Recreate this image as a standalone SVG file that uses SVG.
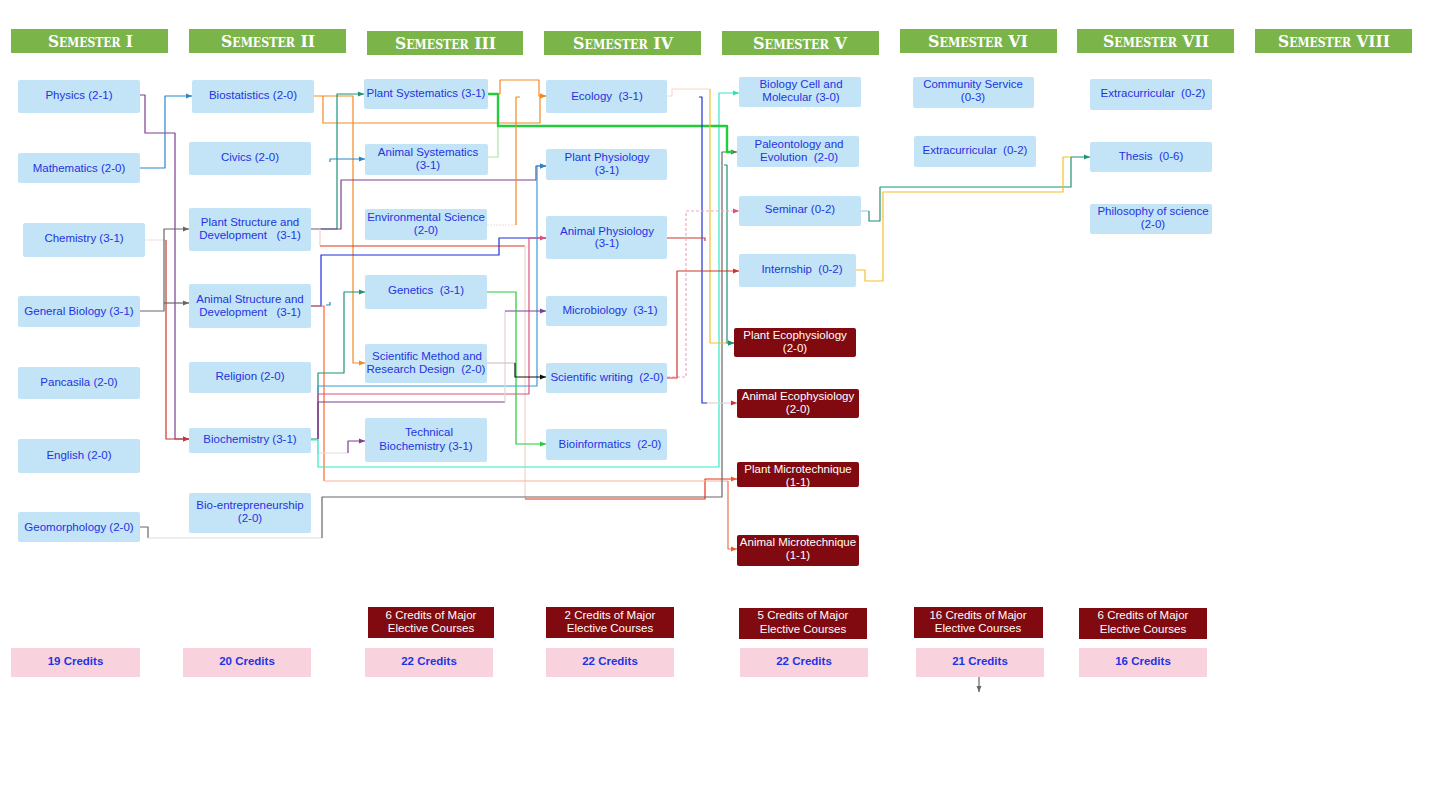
<svg xmlns="http://www.w3.org/2000/svg" width="1430" height="803" viewBox="0 0 1430 803">
<style>
.h rect{fill:#7bb54a}
.h text{font-family:"DejaVu Serif","Liberation Serif",serif;font-weight:bold;font-variant:small-caps;font-size:17px;fill:#fff;text-anchor:middle}
.n rect{fill:#c3e4f6}
.n text{font-family:"Liberation Sans",Arial,sans-serif;font-size:11.5px;fill:#1f33e2;text-anchor:middle;white-space:pre}
.e rect{fill:#800a10}
.e text{font-family:"Liberation Sans",Arial,sans-serif;font-size:11.5px;fill:#fff;text-anchor:middle;white-space:pre}
.c rect{fill:#f8d3de}
.c text{font-family:"Liberation Sans",Arial,sans-serif;font-size:11.5px;font-weight:bold;fill:#1f33e2;text-anchor:middle}
#connectors path{fill:none;stroke-width:1.2;stroke-linejoin:round}
#connectors path.thick{stroke-width:2.4}
</style>
<defs>
<marker id="a-purple" markerWidth="6" markerHeight="6" refX="6" refY="3" orient="auto" markerUnits="userSpaceOnUse"><path d="M0,0.5L6,3L0,5.5z" fill="#7b3f91"/></marker>
<marker id="a-red" markerWidth="6" markerHeight="6" refX="6" refY="3" orient="auto" markerUnits="userSpaceOnUse"><path d="M0,0.5L6,3L0,5.5z" fill="#d0342c"/></marker>
<marker id="a-blue" markerWidth="6" markerHeight="6" refX="6" refY="3" orient="auto" markerUnits="userSpaceOnUse"><path d="M0,0.5L6,3L0,5.5z" fill="#2a86c8"/></marker>
<marker id="a-gray" markerWidth="6" markerHeight="6" refX="6" refY="3" orient="auto" markerUnits="userSpaceOnUse"><path d="M0,0.5L6,3L0,5.5z" fill="#666"/></marker>
<marker id="a-orange" markerWidth="6" markerHeight="6" refX="6" refY="3" orient="auto" markerUnits="userSpaceOnUse"><path d="M0,0.5L6,3L0,5.5z" fill="#f28a24"/></marker>
<marker id="a-teal" markerWidth="6" markerHeight="6" refX="6" refY="3" orient="auto" markerUnits="userSpaceOnUse"><path d="M0,0.5L6,3L0,5.5z" fill="#1f9277"/></marker>
<marker id="a-pink" markerWidth="6" markerHeight="6" refX="6" refY="3" orient="auto" markerUnits="userSpaceOnUse"><path d="M0,0.5L6,3L0,5.5z" fill="#e0507a"/></marker>
<marker id="a-cyan" markerWidth="6" markerHeight="6" refX="6" refY="3" orient="auto" markerUnits="userSpaceOnUse"><path d="M0,0.5L6,3L0,5.5z" fill="#2ee0c0"/></marker>
<marker id="a-green" markerWidth="6" markerHeight="6" refX="6" refY="3" orient="auto" markerUnits="userSpaceOnUse"><path d="M0,0.5L6,3L0,5.5z" fill="#22cc3a"/></marker>
<marker id="a-black" markerWidth="6" markerHeight="6" refX="6" refY="3" orient="auto" markerUnits="userSpaceOnUse"><path d="M0,0.5L6,3L0,5.5z" fill="#111"/></marker>
<marker id="a-orred" markerWidth="6" markerHeight="6" refX="6" refY="3" orient="auto" markerUnits="userSpaceOnUse"><path d="M0,0.5L6,3L0,5.5z" fill="#f05a28"/></marker>
</defs>
<rect width="1430" height="803" fill="#fff"/>

<g id="headers" class="h">
<g id="sem1"><rect x="11" y="29" width="157" height="24"/><text x="90.5" y="47" textLength="85" lengthAdjust="spacingAndGlyphs">Semester I</text></g>
<g id="sem2"><rect x="189" y="29" width="157" height="24"/><text x="268" y="47" textLength="94" lengthAdjust="spacingAndGlyphs">Semester  II</text></g>
<g id="sem3"><rect x="367" y="31" width="156" height="24"/><text x="445.5" y="49" textLength="101" lengthAdjust="spacingAndGlyphs">Semester  III</text></g>
<g id="sem4"><rect x="544" y="31" width="157" height="24"/><text x="623" y="49" textLength="100" lengthAdjust="spacingAndGlyphs">Semester  IV</text></g>
<g id="sem5"><rect x="722" y="31" width="157" height="24"/><text x="800" y="49" textLength="94" lengthAdjust="spacingAndGlyphs">Semester  V</text></g>
<g id="sem6"><rect x="900" y="29" width="157" height="24"/><text x="978" y="47" textLength="100" lengthAdjust="spacingAndGlyphs">Semester  VI</text></g>
<g id="sem7"><rect x="1077" y="29" width="157" height="24"/><text x="1156" y="47" textLength="106" lengthAdjust="spacingAndGlyphs">Semester  VII</text></g>
<g id="sem8"><rect x="1255" y="29" width="157" height="24"/><text x="1334" y="47" textLength="112" lengthAdjust="spacingAndGlyphs">Semester  VIII</text></g>
</g>

<g id="nodes">
<g id="physics" class="n"><rect x="18" y="80" width="122" height="33" rx="2"/><text x="79" y="99">Physics (2-1)</text></g>
<g id="mathematics" class="n"><rect x="18" y="153" width="122" height="30" rx="2"/><text x="79" y="172">Mathematics (2-0)</text></g>
<g id="chemistry" class="n"><rect x="23" y="223" width="122" height="34" rx="2"/><text x="84" y="242">Chemistry (3-1)</text></g>
<g id="genbio" class="n"><rect x="18" y="296" width="122" height="31" rx="2"/><text x="79" y="315">General Biology (3-1)</text></g>
<g id="pancasila" class="n"><rect x="18" y="367" width="122" height="32" rx="2"/><text x="79" y="386">Pancasila (2-0)</text></g>
<g id="english" class="n"><rect x="18" y="439" width="122" height="34" rx="2"/><text x="79" y="459">English (2-0)</text></g>
<g id="geomorphology" class="n"><rect x="18" y="512" width="122" height="30" rx="2"/><text x="79" y="531">Geomorphology (2-0)</text></g>

<g id="biostatistics" class="n"><rect x="192" y="80" width="122" height="33" rx="2"/><text x="253" y="99">Biostatistics (2-0)</text></g>
<g id="civics" class="n"><rect x="189" y="142" width="122" height="33" rx="2"/><text x="250" y="161">Civics (2-0)</text></g>
<g id="plantstruct" class="n"><rect x="189" y="208" width="122" height="43" rx="2"/><text x="250" y="226">Plant Structure and</text><text x="250" y="239">Development   (3-1)</text></g>
<g id="animalstruct" class="n"><rect x="189" y="284" width="122" height="44" rx="2"/><text x="250" y="303">Animal Structure and</text><text x="250" y="316">Development   (3-1)</text></g>
<g id="religion" class="n"><rect x="189" y="362" width="122" height="31" rx="2"/><text x="250" y="380">Religion (2-0)</text></g>
<g id="biochemistry" class="n"><rect x="189" y="428" width="122" height="25" rx="2"/><text x="250" y="443">Biochemistry (3-1)</text></g>
<g id="bioentre" class="n"><rect x="189" y="493" width="122" height="40" rx="2"/><text x="250" y="509">Bio-entrepreneurship</text><text x="250" y="522">(2-0)</text></g>

<g id="plantsyst" class="n"><rect x="364" y="79" width="124" height="30" rx="2"/><text x="426" y="97">Plant Systematics (3-1)</text></g>
<g id="animalsyst" class="n"><rect x="365" y="144" width="123" height="31" rx="2"/><text x="428" y="156">Animal Systematics</text><text x="428" y="169">(3-1)</text></g>
<g id="envsci" class="n"><rect x="365" y="209" width="122" height="31" rx="2"/><text x="426" y="221">Environmental Science</text><text x="426" y="234">(2-0)</text></g>
<g id="genetics" class="n"><rect x="365" y="275" width="122" height="34" rx="2"/><text x="426" y="294">Genetics  (3-1)</text></g>
<g id="scimethod" class="n"><rect x="365" y="344" width="122" height="39" rx="2"/><text x="427" y="360">Scientific Method and</text><text x="426" y="373">Research Design  (2-0)</text></g>
<g id="techbiochem" class="n"><rect x="365" y="418" width="122" height="44" rx="2"/><text x="429" y="436">Technical</text><text x="426" y="450">Biochemistry (3-1)</text></g>

<g id="ecology" class="n"><rect x="546" y="80" width="121" height="33" rx="2"/><text x="607" y="100">Ecology  (3-1)</text></g>
<g id="plantphys" class="n"><rect x="546" y="149" width="121" height="31" rx="2"/><text x="607" y="161">Plant Physiology</text><text x="607" y="174">(3-1)</text></g>
<g id="animalphys" class="n"><rect x="546" y="216" width="121" height="43" rx="2"/><text x="607" y="235">Animal Physiology</text><text x="607" y="247">(3-1)</text></g>
<g id="microbio" class="n"><rect x="546" y="296" width="121" height="30" rx="2"/><text x="610" y="314">Microbiology  (3-1)</text></g>
<g id="sciwriting" class="n"><rect x="546" y="363" width="121" height="30" rx="2"/><text x="607" y="381">Scientific writing  (2-0)</text></g>
<g id="bioinfo" class="n"><rect x="546" y="429" width="121" height="31" rx="2"/><text x="610" y="448">Bioinformatics  (2-0)</text></g>

<g id="biocell" class="n"><rect x="739" y="77" width="122" height="30" rx="2"/><text x="801" y="88">Biology Cell and</text><text x="801" y="101">Molecular (3-0)</text></g>
<g id="paleo" class="n"><rect x="737" y="136" width="122" height="31" rx="2"/><text x="799" y="148">Paleontology and</text><text x="799" y="161">Evolution  (2-0)</text></g>
<g id="seminar" class="n"><rect x="739" y="196" width="122" height="30" rx="2"/><text x="800" y="213">Seminar (0-2)</text></g>
<g id="internship" class="n"><rect x="739" y="254" width="117" height="33" rx="2"/><text x="802" y="273">Internship  (0-2)</text></g>
<g id="plantecophys" class="e"><rect x="734" y="328" width="122" height="29" rx="2"/><text x="795" y="339">Plant Ecophysiology</text><text x="795" y="352">(2-0)</text></g>
<g id="animalecophys" class="e"><rect x="737" y="389" width="122" height="29" rx="2"/><text x="798" y="400">Animal Ecophysiology</text><text x="798" y="413">(2-0)</text></g>
<g id="plantmicro" class="e"><rect x="737" y="462" width="122" height="25" rx="2"/><text x="798" y="473">Plant Microtechnique</text><text x="798" y="486">(1-1)</text></g>
<g id="animalmicro" class="e"><rect x="737" y="535" width="122" height="31" rx="2"/><text x="798" y="546">Animal Microtechnique</text><text x="798" y="559">(1-1)</text></g>

<g id="community" class="n"><rect x="913" y="77" width="121" height="31" rx="2"/><text x="973" y="88">Community Service</text><text x="973" y="101">(0-3)</text></g>
<g id="extra6" class="n"><rect x="914" y="136" width="122" height="31" rx="2"/><text x="975" y="154">Extracurricular  (0-2)</text></g>

<g id="extra7" class="n"><rect x="1090" y="79" width="122" height="31" rx="2"/><text x="1153" y="97">Extracurricular  (0-2)</text></g>
<g id="thesis" class="n"><rect x="1090" y="142" width="122" height="30" rx="2"/><text x="1151" y="160">Thesis  (0-6)</text></g>
<g id="philosophy" class="n"><rect x="1090" y="204" width="122" height="30" rx="2"/><text x="1153" y="215">Philosophy of science</text><text x="1153" y="228">(2-0)</text></g>

<g id="elective3" class="e"><rect x="368" y="607" width="126" height="31"/><text x="431" y="619">6 Credits of Major</text><text x="431" y="632">Elective Courses</text></g>
<g id="elective4" class="e"><rect x="546" y="607" width="128" height="31"/><text x="610" y="619">2 Credits of Major</text><text x="610" y="632">Elective Courses</text></g>
<g id="elective5" class="e"><rect x="739" y="608" width="128" height="31"/><text x="803" y="619">5 Credits of Major</text><text x="803" y="633">Elective Courses</text></g>
<g id="elective6" class="e"><rect x="914" y="607" width="129" height="31"/><text x="978" y="619">16 Credits of Major</text><text x="978" y="632">Elective Courses</text></g>
<g id="elective7" class="e"><rect x="1079" y="608" width="128" height="31"/><text x="1143" y="619">6 Credits of Major</text><text x="1143" y="633">Elective Courses</text></g>

<g id="credits1" class="c"><rect x="11" y="648" width="129" height="29"/><text x="75.5" y="665">19 Credits</text></g>
<g id="credits2" class="c"><rect x="183" y="648" width="128" height="29"/><text x="247" y="665">20 Credits</text></g>
<g id="credits3" class="c"><rect x="365" y="648" width="128" height="29"/><text x="429" y="665">22 Credits</text></g>
<g id="credits4" class="c"><rect x="546" y="648" width="128" height="29"/><text x="610" y="665">22 Credits</text></g>
<g id="credits5" class="c"><rect x="740" y="648" width="128" height="29"/><text x="804" y="665">22 Credits</text></g>
<g id="credits6" class="c"><rect x="916" y="648" width="128" height="29"/><text x="980" y="665">21 Credits</text></g>
<g id="credits7" class="c"><rect x="1079" y="648" width="128" height="29"/><text x="1143" y="665">16 Credits</text></g>
</g>

<g id="connectors">
<path d="M140,95 H145 V133 H175 V439 H189" stroke="#7b3f91" marker-end="url(#a-purple)"/>
<path d="M145,240 H166" stroke="#f3e3e0"/>
<path d="M166,240 V439 H189" stroke="#d0342c" marker-end="url(#a-red)"/>
<path d="M140,168 H165 V96 H192" stroke="#2a86c8" marker-end="url(#a-blue)"/>
<path d="M140,311 H164 V229 H189" stroke="#666" marker-end="url(#a-gray)"/>
<path d="M164,303 H189" stroke="#666" marker-end="url(#a-gray)"/>
<path d="M314,96 H323 V123 H540 V96 H546" stroke="#f28a24" marker-end="url(#a-orange)"/>
<path d="M323,96 H353 V363 H365" stroke="#f28a24" marker-end="url(#a-orange)"/>
<path d="M311,229 H337 V94 H364" stroke="#1f9277" marker-end="url(#a-teal)"/>
<path d="M311,229 H341 V180 H536 V166 H546" stroke="#7b3f91" marker-end="url(#a-purple)"/>
<path d="M311,229 H320 V246" stroke="#f5d0c8"/>
<path d="M320,246 H525" stroke="#e0321c"/>
<path d="M525,246 V499" stroke="#f2d2ca"/>
<path d="M525,499 H705 V479 H737" stroke="#e0321c" marker-end="url(#a-orred)"/>
<path d="M311,306 H321 V255 H499 V238 H546" stroke="#1f2fd8"/>
<path d="M311,306 H324 V481" stroke="#ff6633"/>
<path d="M324,481 H728" stroke="#f7b09a"/>
<path d="M728,481 V549 H737" stroke="#f07050" marker-end="url(#a-orred)"/>
<path d="M326,305 H330 V302" stroke="#2a86c8"/>
<path d="M330,162 V159 H365" stroke="#2a86c8" marker-end="url(#a-blue)"/>
<path d="M311,439 H318 V373 H344 V292 H365" stroke="#1f9277" marker-end="url(#a-teal)"/>
<path d="M318,439 V386 H537 V166 H546" stroke="#3a9ad9" marker-end="url(#a-blue)"/>
<path d="M318,439 V394 H529 V238 H546" stroke="#e0507a" marker-end="url(#a-pink)"/>
<path d="M318,439 V402 H505" stroke="#7b3f91"/>
<path d="M505,402 V311" stroke="#e4d4d8"/>
<path d="M505,311 H546" stroke="#7b3f91" marker-end="url(#a-purple)"/>
<path d="M318,440 V453 H348" stroke="#dddddd"/>
<path d="M348,453 V441 H365" stroke="#7b3f91" marker-end="url(#a-purple)"/>
<path d="M311,440 H318 V467 H719 V93 H739" stroke="#34e8c8" marker-end="url(#a-cyan)"/>
<path d="M140,527 H148 V538" stroke="#666"/>
<path d="M148,538 H322" stroke="#dddddd"/>
<path d="M322,538 V497 H722 V152 H737" stroke="#666" marker-end="url(#a-gray)"/>
<path d="M488,157 H498 V126" stroke="#a8e4a8"/>
<path class="thick" d="M488,94 H498 V126 H727 V152 H733" stroke="#22cc3a"/>
<path d="M498,94 H500 V80 H539 V96 H546" stroke="#f28a24" marker-end="url(#a-orange)"/>
<path d="M487,225 H516" stroke="#f5dcd4" stroke-dasharray="2 1"/>
<path d="M516,225 V97 H520" stroke="#f28a24"/>
<path d="M487,292 H516 V444 H546" stroke="#22cc3a" marker-end="url(#a-green)"/>
<path d="M487,363 H515" stroke="#d8c2c4"/>
<path d="M515,363 V377 H546" stroke="#111" marker-end="url(#a-black)"/>
<path d="M667,96 H672 V89 H710" stroke="#f8d8c8"/>
<path d="M710,89 V343 H734" stroke="#f7be2a" marker-end="url(#a-teal)"/>
<path d="M699,97 H702 V403 H707" stroke="#1f2fd8"/>
<path d="M707,403 H737" stroke="#e8d0d4" marker-end="url(#a-red)"/>
<path d="M667,238 H705 V241" stroke="#d0342c"/>
<path d="M724,165 H727 V343 H734" stroke="#1f9277" marker-end="url(#a-teal)"/>
<path d="M667,377 H686 V211 H739" stroke="#f0a8bf" stroke-dasharray="3 2" marker-end="url(#a-pink)"/>
<path d="M667,378 H677 V271 H739" stroke="#d0342c" marker-end="url(#a-red)"/>
<path d="M861,211 H869" stroke="#a8cce0"/>
<path d="M869,211 V221 H880 V187 H1071 V157 H1090" stroke="#1f9277" marker-end="url(#a-teal)"/>
<path d="M856,270 H865 V281 H883 V192 H1063 V157 H1071" stroke="#f7be2a"/>
<path d="M979,677 V692" stroke="#666" marker-end="url(#a-gray)"/>
</g>
</svg>
